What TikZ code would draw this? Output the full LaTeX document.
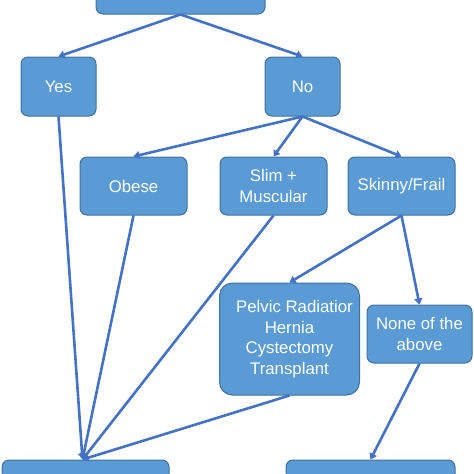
\documentclass[tikz,border=0pt]{standalone}
\usepackage{fontspec}
\setmainfont{Liberation Sans}
\usetikzlibrary{arrows.meta}
\definecolor{boxfill}{HTML}{5B9BD5}
\definecolor{boxline}{HTML}{41719C}
\definecolor{arrline}{HTML}{4472C4}

\begin{document}
\begin{tikzpicture}[x=1pt, y=-1pt,
    box/.style={draw=boxline, fill=boxfill, line width=1pt, rounded corners=7pt,
        text=white, align=center, inner sep=0pt, minimum height=58pt,
        font=\fontsize{16.8}{20.5}\selectfont},
    arr/.style={draw=arrline, line width=2.6pt, -{Triangle[width=8pt,length=6pt]}}]

\useasboundingbox (0,0) rectangle (474,474);

% Question at the top (cut off by the page)
\node[box, minimum width=169pt] (question) at (180.5,-15) {};

% First level
\node[box, minimum width=75pt, minimum height=59pt] (yes) at (58.5,86.5) {Yes};
\node[box, minimum width=75pt, minimum height=59pt] (no) at (302.5,86.5) {No};

% Body types
\node[box, minimum width=107pt] (obese) at (133.5,186) {Obese};
\node[box, minimum width=107pt] (slim) at (273.5,186) {Slim +\\Muscular};
\node[box, minimum width=107pt] (skinny) at (401.5,186) {Skinny/Frail};

% History
\node[box, minimum width=140pt, minimum height=112pt, rounded corners=13pt] (pelvic) at (289.5,339)
    {\hspace*{10pt}Pelvic Radiatior\\Hernia\\Cystectomy\\Transplant};
\node[box, minimum width=105pt] (none) at (419.5,334) {None of the\\above};

% Outcomes (cut off by the page)
\node[box, minimum width=167pt] (left) at (85.5,489) {};
\node[box, minimum width=169pt] (right) at (370.5,489) {};

% Connectors
\draw[arr] (question.south) -- (yes.north);
\draw[arr] (question.south) -- (no.north);
\draw[arr] (no.south) -- (obese.north);
\draw[arr] (no.south) -- (slim.north);
\draw[arr] (no.south) -- (skinny.north);
\draw[arr] (skinny.south) -- (pelvic.north);
\draw[arr] (skinny.south) -- (none.north);

\draw[arr] (yes.south) -- ([xshift=-3pt]left.north);
\draw[arr] (obese.south) -- ([xshift=-3pt]left.north);
\draw[arr] (slim.south) -- ([xshift=-3pt]left.north);
\draw[arr] (pelvic.south) -- ([xshift=-3pt]left.north);
\draw[arr] (none.south) -- (right.north);
\end{tikzpicture}
\end{document}
